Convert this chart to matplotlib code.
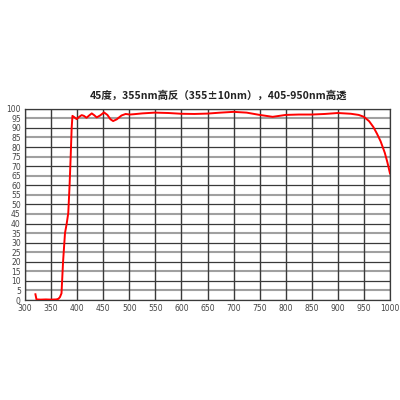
import numpy as np
import matplotlib.pyplot as plt

# wavelength (nm) and transmission (%)
wl_low = [320, 322, 330, 340, 350, 360, 364, 367, 370]
t_low = [3.0, 0.3, 0.2, 0.3, 0.2, 0.3, 0.6, 1.5, 3.5]

wl_edge = [370, 373, 376.7, 380, 383, 385.5, 387.6, 389.5, 391]
t_edge = [3.5, 20, 35, 40, 45.5, 60, 75, 90, 96.3]

wl_top = [391, 395, 399, 404, 408.7, 413, 418, 423, 428, 433, 437.5, 444, 451.5,
          458, 464, 469, 476, 485, 493, 501, 510, 525, 549, 575, 600, 625, 650,
          675, 700, 725, 750, 775, 800, 825, 850, 875, 900, 925, 940, 950,
          960, 968, 975, 982, 990, 995, 1000]
t_top = [96.3, 95.5, 94.6, 95.8, 96.7, 96.3, 95.3, 96.5, 97.6, 96.6, 95.5, 96.5, 98.1,
         96.8, 94.5, 93.6, 94.5, 96.5, 97.3, 97.0, 97.2, 97.6, 98.0, 97.8, 97.4, 97.3, 97.5,
         98.0, 98.4, 98.0, 96.8, 95.8, 96.8, 97.0, 97.0, 97.3, 97.8, 97.4, 96.8, 95.8,
         93.5, 90.5, 87.0, 83.0, 77.0, 72.0, 66.2]

wl = wl_low + wl_edge[1:] + wl_top[1:]
t = t_low + t_edge[1:] + t_top[1:]

x_ticks = list(range(300, 1001, 50))
y_ticks = list(range(0, 101, 5))

title = "45度，355nm高反（355±10nm），405-950nm高透"


def main():
    fig = plt.figure(figsize=(4, 4), dpi=100)
    ax = fig.add_axes([0.0625, 0.25, 0.9125, 0.478])

    for yv in y_ticks:
        c = "#a0a0a0" if yv % 10 == 5 else "#3a3a3a"
        lw = 1.5 if yv % 10 == 5 else 0.9
        ax.axhline(yv, color=c, linewidth=lw, zorder=1)
    for xv in x_ticks:
        ax.axvline(xv, color="#3a3a3a", linewidth=1.0, zorder=1)

    ax.plot(wl, t, color="#ff0000", linewidth=1.4, zorder=3)

    ax.set_xlim(300, 1000)
    ax.set_ylim(0, 100)
    ax.set_xticks(x_ticks)
    ax.set_yticks(y_ticks)
    ax.tick_params(labelsize=5.5, colors="#444444", length=0, pad=3)
    for s in ax.spines.values():
        s.set_color("#3a3a3a")
        s.set_linewidth(0.9)

    fig.text(0.545, 0.762, title, ha="center", va="center", fontsize=7.5,
             fontweight="bold", color="#222222",
             family=["Noto Sans CJK SC", "DejaVu Sans"])

    fig.savefig("out.png", dpi=100, facecolor="white")


if __name__ == "__main__":
    main()
